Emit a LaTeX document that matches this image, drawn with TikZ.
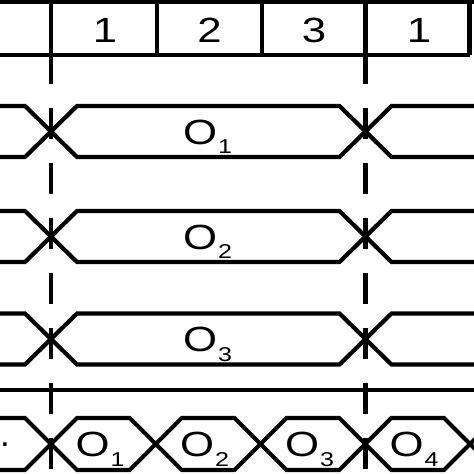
\documentclass[tikz,border=0pt]{standalone}
\usepackage{fontspec}
\usepackage{graphicx}
\setmainfont{Liberation Sans}
\usetikzlibrary{positioning}
\tikzstyle{sig}=[line width=4.2pt, draw=black]
\tikzstyle{clk}=[line width=4.2pt, draw=black, dash pattern=on 31pt off 24pt]
\tikzstyle{lbl}=[inner sep=0pt, font=\fontsize{35}{40}\selectfont]
\newcommand{\wtxt}[1]{\scalebox{1.25}[1]{#1}}
\newcommand{\Osub}[1]{\wtxt{O}\kern1pt\raisebox{-9.5pt}{\fontsize{20}{20}\selectfont\wtxt{#1}}}

\begin{document}
\begin{tikzpicture}[x=1pt,y=-1pt]
\useasboundingbox (0,0) rectangle (474,474);
%Nodes
\node[lbl, anchor=base] (c1) at (105,42.5) {\wtxt{1}};
\node[lbl, anchor=base] (c2) at (209.5,42.5) {\wtxt{2}};
\node[lbl, anchor=base] (c3) at (314,42.5) {\wtxt{3}};
\node[lbl, anchor=base] (c4) at (419,42.5) {\wtxt{1}};
\foreach \yc/\k in {131.5/1,236.5/2,339/3}
  \node[lbl, anchor=base] (o\k) at (207.5,\yc+12.5) {\Osub{\k}};
\foreach \xc/\k in {100/1,204.5/2,309.5/3,414/4}
  \node[lbl, anchor=base] (q\k) at (\xc,456.5) {\Osub{\k}};
\node[lbl] (dot) at (5,445) {.};
%Lines
% top row
\draw[sig] (0,2) -- (474,2);
\draw[sig] (0,55) -- (470,55);
\foreach \xd in {51,157,262,365.5,469.5}
  \draw[sig] (\xd,2) -- (\xd,55);
% bus rows
\foreach \yc in {131.5,236.5,339} {
  \draw[sig] (0,\yc-25.5) -- (25,\yc-25.5) -- (77,\yc+25.5) -- (339.5,\yc+25.5) -- (391.5,\yc-25.5) -- (474,\yc-25.5);
  \draw[sig] (0,\yc+25.5) -- (25,\yc+25.5) -- (77,\yc-25.5) -- (339.5,\yc-25.5) -- (391.5,\yc+25.5) -- (474,\yc+25.5);
}
\draw[sig] (0,390) -- (474,390);
% output row
\draw[sig] (0,418) -- (25,418) -- (77,470) -- (129.75,470) -- (181.75,418) -- (234.5,418) -- (286.5,470) -- (339.25,470) -- (391.25,418) -- (444,418) -- (496,470);
\draw[sig] (0,470) -- (25,470) -- (77,418) -- (129.75,418) -- (181.75,470) -- (234.5,470) -- (286.5,418) -- (339.25,418) -- (391.25,470) -- (444,470) -- (496,418);
% clock edges
\draw[clk] (51,53) -- (51,474);
\draw[clk] (365.5,53) -- (365.5,474);
\end{tikzpicture}
\end{document}
